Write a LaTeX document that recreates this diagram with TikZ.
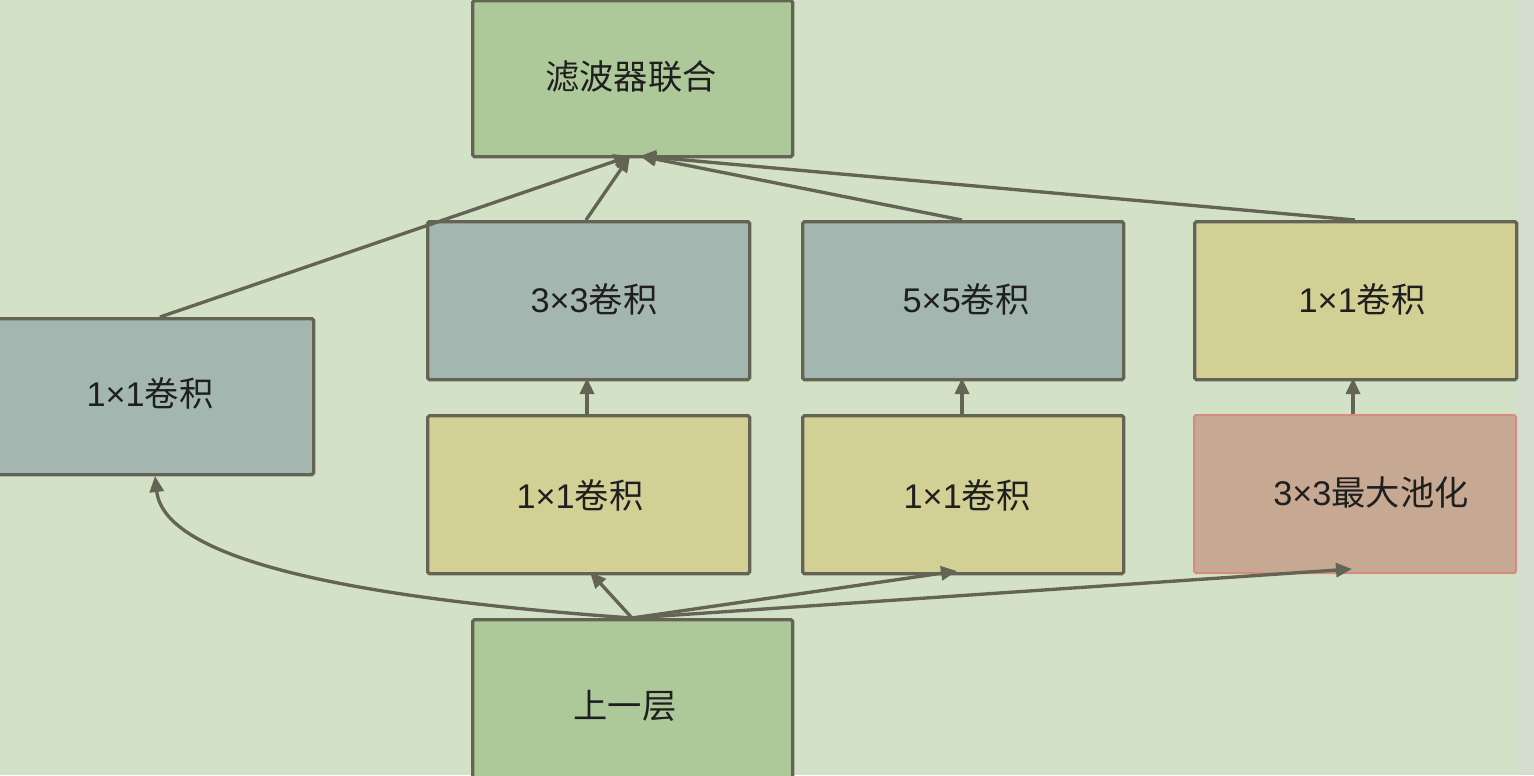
\documentclass[tikz,border=0pt]{standalone}
\usepackage{fontspec}
\setmainfont{Liberation Sans}
\newfontfamily\cjk{Noto Sans CJK SC}
\newcommand\zh[1]{{\cjk #1}}
\usetikzlibrary{arrows.meta}
\definecolor{bg}{HTML}{D3E2C7}
\definecolor{strip}{HTML}{D5DDD1}
\definecolor{greenbox}{HTML}{ADC99A}
\definecolor{bluebox}{HTML}{A4B6B0}
\definecolor{yellowbox}{HTML}{D2D095}
\definecolor{redbox}{HTML}{C6A893}
\definecolor{redline}{HTML}{D48C80}
\definecolor{edge}{HTML}{646455}
\tikzset{
  box/.style={draw=edge, line width=1.9pt, rounded corners=1pt, inner sep=0pt, anchor=north west},
  lbl/.style={font=\fontsize{19.5}{22}\selectfont, text=black!88},
  arr/.style={draw=edge, line width=1.9pt, -{Triangle[length=0.32cm,width=0.28cm]}},
}
\begin{document}
\begin{tikzpicture}[x=0.02cm,y=-0.02cm]
\fill[bg] (0,0) rectangle (1534,775);
\fill[strip] (1518,0) rectangle (1534,775);
\useasboundingbox (0,0) rectangle (1534,775);
% boxes
\node[box, fill=greenbox, minimum width=320*0.02cm, minimum height=156*0.02cm] (concat) at (471,-1) {};
\node[lbl] (concatT) at (631,77) {\zh{滤波器联合}};
\node[box, fill=bluebox, minimum width=318*0.02cm, minimum height=156*0.02cm] (c1) at (-6,317) {};
\node[lbl] (c1T) at (150,393) {1×1\zh{卷积}};
\node[box, fill=bluebox, minimum width=322*0.02cm, minimum height=158*0.02cm] (c3) at (426,220) {};
\node[lbl] (c3T) at (594,299) {3×3\zh{卷积}};
\node[box, fill=bluebox, minimum width=321*0.02cm, minimum height=158*0.02cm] (c5) at (801,220) {};
\node[lbl] (c5T) at (966,299) {5×5\zh{卷积}};
\node[box, fill=yellowbox, minimum width=322*0.02cm, minimum height=158*0.02cm] (cp) at (1193,220) {};
\node[lbl] (cpT) at (1362,299) {1×1\zh{卷积}};
\node[box, fill=yellowbox, minimum width=322*0.02cm, minimum height=158*0.02cm] (r3) at (426,414) {};
\node[lbl] (r3T) at (580,495) {1×1\zh{卷积}};
\node[box, fill=yellowbox, minimum width=321*0.02cm, minimum height=158*0.02cm] (r5) at (801,414) {};
\node[lbl] (r5T) at (967,495) {1×1\zh{卷积}};
\node[box, fill=redbox, draw=redline, line width=1.2pt, minimum width=322*0.02cm, minimum height=158*0.02cm] (pool) at (1193,414) {};
\node[lbl] (poolT) at (1371,492) {3×3\zh{最大池化}};
\node[box, fill=greenbox, minimum width=320*0.02cm, minimum height=160*0.02cm] (prev) at (471,618) {};
\node[lbl] (prevT) at (625,706) {\zh{上一层}};
% coordinates
\coordinate (src) at (632,618);
\coordinate (tgtA) at (630,156);
\coordinate (tgtB) at (640,156);
\coordinate (c1top) at (160,317);
\coordinate (c1bot) at (155,476);
\coordinate (c3top) at (586,220);
\coordinate (c5top) at (962,220);
\coordinate (cptop) at (1355,220);
\coordinate (r3top) at (587,414);
\coordinate (c3bot) at (587,378);
\coordinate (r5top) at (962,414);
\coordinate (c5bot) at (962,378);
\coordinate (pooltop) at (1353,414);
\coordinate (cpbot) at (1353,378);
\coordinate (r3bot) at (590,572);
\coordinate (r5bot) at (957,571);
\coordinate (poolbot) at (1352,569);
% arrows from previous layer
\draw[arr] (src) .. controls (380,600) and (165,565) .. (c1bot);
\draw[arr] (src) -- (r3bot);
\draw[arr] (src) -- (r5bot);
\draw[arr] (src) -- (poolbot);
% inner arrows
\draw[arr] (r3top) -- (c3bot);
\draw[arr] (r5top) -- (c5bot);
\draw[arr] (pooltop) -- (cpbot);
% to concat
\draw[arr] (c1top) -- (tgtA);
\draw[arr] (c3top) -- (tgtA);
\draw[arr] (c5top) -- (tgtB);
\draw[arr] (cptop) -- (tgtB);
\end{tikzpicture}
\end{document}
